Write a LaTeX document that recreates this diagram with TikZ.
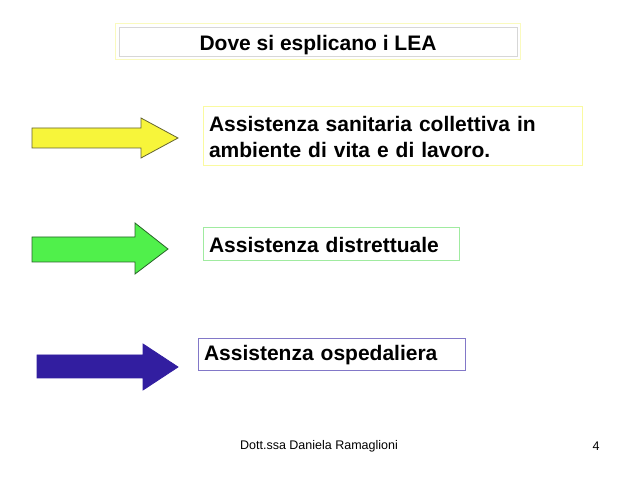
\documentclass[tikz,border=0pt]{standalone}
\usepackage{fontspec}
\setmainfont{Liberation Sans}
\begin{document}
\begin{tikzpicture}[x=1pt,y=-1pt,
  lbl/.style={font=\fontsize{21}{26}\selectfont\bfseries, anchor=center, inner xsep=6pt, inner ysep=0pt, align=left},
  arr/.style={line width=0.8pt, line join=miter}]
\useasboundingbox[fill=white] (0,0) rectangle (638,478);
% title
\draw[draw={rgb,255:red,250;green,250;blue,190}, line width=1pt] (115,24) rectangle (520,60);
\draw[draw={rgb,255:red,215;green,215;blue,215}, line width=1pt] (119,28) rectangle (517,57);
\node[font=\fontsize{21}{26}\selectfont\bfseries] (title) at (318,45) {Dove si esplicano i LEA};
% arrows
\filldraw[arr, fill={rgb,255:red,247;green,245;blue,58}, draw={rgb,255:red,100;green,100;blue,50}]
  (32,128) -- (141,128) -- (141,118) -- (178,138) -- (141,158) -- (141,148) -- (32,148) -- cycle;
\filldraw[arr, fill={rgb,255:red,80;green,240;blue,75}, draw={rgb,255:red,40;green,100;blue,40}]
  (32,237) -- (135,237) -- (135,223) -- (168,249) -- (135,274) -- (135,262) -- (32,262) -- cycle;
\filldraw[arr, fill={rgb,255:red,50;green,30;blue,160}, draw={rgb,255:red,50;green,30;blue,160}]
  (37,355) -- (143,355) -- (143,344) -- (178,367) -- (143,390) -- (143,378) -- (37,378) -- cycle;
% boxes
\node[lbl, draw={rgb,255:red,250;green,250;blue,160}, line width=1pt, minimum width=379pt, minimum height=59pt, text width=367pt] (b1) at (392.5,136.5)
  {Assistenza sanitaria collettiva in\\ambiente di vita e di lavoro.};
\node[lbl, draw={rgb,255:red,160;green,235;blue,160}, line width=1pt, minimum width=256pt, minimum height=33pt, text width=244pt] (b2) at (331,244.5)
  {Assistenza distrettuale};
\node[lbl, draw={rgb,255:red,130;green,120;blue,200}, line width=1pt, minimum width=267pt, minimum height=32pt, text width=255pt] (b3) at (331.5,355)
  {Assistenza ospedaliera};
% footer
\node[font=\fontsize{12.5}{14}\selectfont] (foot) at (319,446) {Dott.ssa Daniela Ramaglioni};
\node[font=\fontsize{12.5}{14}\selectfont] (page) at (596,446) {4};
\end{tikzpicture}
\end{document}
